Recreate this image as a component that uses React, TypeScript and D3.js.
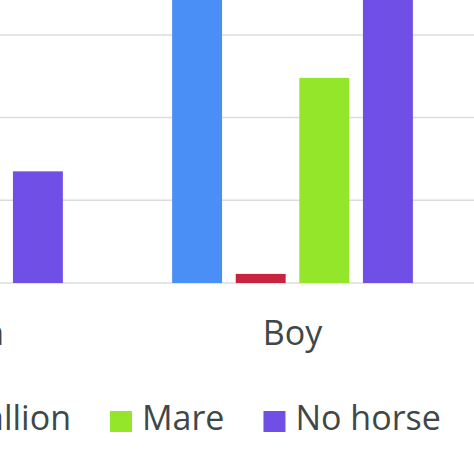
import { useEffect, useRef } from "react";
import { select, scaleBand, scaleLinear } from "d3";

// Categories, series and values (units: percent)
const categories = ["Woman", "Boy"];
const seriesNames = ["Gelding", "Stallion", "Mare", "No horse"];
const seriesColors = ["#4a8ff5", "#c8243f", "#93e62a", "#6f4fe6"];
const gelding = [31, 45];
const stallion = [2.5, 1.1];
const mare = [22, 24.8];
const noHorse = [13.5, 42];
const yTicks = [0, 10, 20, 30, 40, 50];

const seriesValues = [gelding, stallion, mare, noHorse];
const font = "'Open Sans', sans-serif";
const textColor = "#3f4747";

export default function App() {
  const svgRef = useRef<SVGSVGElement | null>(null);

  useEffect(() => {
    const svg = select(svgRef.current);
    svg.selectAll("*").remove();

    // Outer scale: one band per category (the chart is cropped, so the range runs off-screen)
    const x0 = scaleBand<string>().domain(categories).range([-232.5, 467.5]);
    // Inner scale: one band per series inside a category
    const x1 = scaleBand<string>()
      .domain(seriesNames)
      .range([-128, 128])
      .paddingInner(0.215)
      .paddingOuter(0.12);
    const y = scaleLinear().domain([0, 50]).range([283, -130.5]);

    // Gridlines
    svg
      .append("g")
      .selectAll("line")
      .data(yTicks)
      .join("line")
      .attr("x1", 0)
      .attr("x2", 474)
      .attr("y1", (d) => y(d))
      .attr("y2", (d) => y(d))
      .attr("stroke", "#dcdcdc")
      .attr("stroke-width", 1.5);

    // Bars
    const groups = svg
      .append("g")
      .selectAll("g")
      .data(categories)
      .join("g")
      .attr("transform", (c) => `translate(${x0(c)! + x0.bandwidth() / 2},0)`);

    groups
      .selectAll("rect")
      .data((_c, i) => seriesNames.map((s, k) => ({ s, k, v: seriesValues[k][i] })))
      .join("rect")
      .attr("x", (d) => x1(d.s)!)
      .attr("width", x1.bandwidth())
      .attr("y", (d) => y(d.v))
      .attr("height", (d) => y(0) - y(d.v))
      .attr("fill", (d) => seriesColors[d.k]);

    // Category labels
    svg
      .append("g")
      .selectAll("text")
      .data(categories)
      .join("text")
      .attr("x", (c) => x0(c)! + x0.bandwidth() / 2)
      .attr("y", 345)
      .attr("text-anchor", "middle")
      .attr("font-family", font)
      .attr("font-size", 34)
      .attr("fill", textColor)
      .text((c) => c);

    // Legend: lay items out in a row using measured text widths
    const legend = svg.append("g");
    const items = legend
      .selectAll("g")
      .data(seriesNames)
      .join("g");
    items
      .append("rect")
      .attr("width", 22)
      .attr("height", 21)
      .attr("y", 411)
      .attr("fill", (_d, i) => seriesColors[i]);
    const labels = items
      .append("text")
      .attr("x", 32)
      .attr("y", 430)
      .attr("font-family", font)
      .attr("font-size", 34)
      .attr("fill", textColor)
      .text((d) => d);

    const widths: number[] = [];
    labels.each(function () {
      widths.push((this as SVGTextElement).getComputedTextLength());
    });
    const gap = 39;
    const offsets: number[] = [];
    let acc = 0;
    widths.forEach((w) => {
      offsets.push(acc);
      acc += 32 + w + gap;
    });
    // The "Mare" swatch sits at x = 110 in the reference
    const shift = 110 - offsets[2];
    items.attr("transform", (_d, i) => `translate(${offsets[i] + shift},0)`);
  }, []);

  return (
    <div style={{ position: "fixed", left: 0, top: 0, width: 474, height: 474, background: "#fff" }}>
      <svg ref={svgRef} width={474} height={474} style={{ display: "block", overflow: "hidden" }} />
    </div>
  );
}
